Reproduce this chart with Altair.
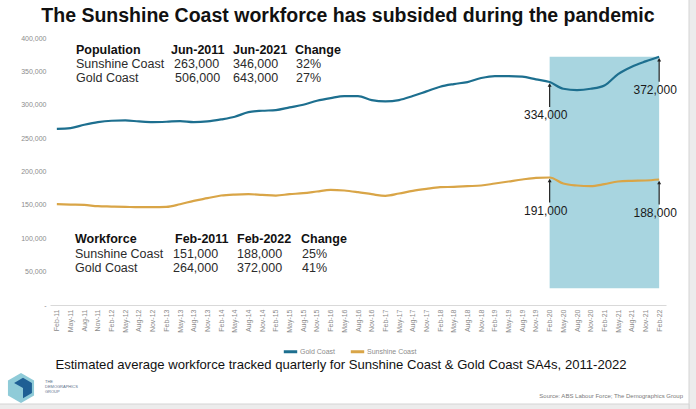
import json
import altair as alt
import pandas as pd

# Quarterly tick labels, Feb-2011 to Feb-2022
quarters = [
    "Feb-11", "May-11", "Aug-11", "Nov-11", "Feb-12", "May-12", "Aug-12", "Nov-12",
    "Feb-13", "May-13", "Aug-13", "Nov-13", "Feb-14", "May-14", "Aug-14", "Nov-14",
    "Feb-15", "May-15", "Aug-15", "Nov-15", "Feb-16", "May-16", "Aug-16", "Nov-16",
    "Feb-17", "May-17", "Aug-17", "Nov-17", "Feb-18", "May-18", "Aug-18", "Nov-18",
    "Feb-19", "May-19", "Aug-19", "Nov-19", "Feb-20", "May-20", "Aug-20", "Nov-20",
    "Feb-21", "May-21", "Aug-21", "Nov-21", "Feb-22",
]

# Estimated average workforce (persons), quarterly
gold_coast = [
    264000, 265000, 270000, 274000, 276000, 276500, 275000, 274000, 274500,
    275500, 274000, 275000, 278000, 282000, 289000, 291000, 292000, 296000,
    300000, 306000, 310000, 313000, 313000, 307000, 305000, 307000, 313000,
    320000, 327000, 331000, 334000, 340000, 343000, 343000, 342000, 338000,
    334000, 324000, 322000, 324000, 329000, 346000, 357000, 365000, 372000,
]
sunshine_coast = [
    151000, 150500, 150000, 148000, 147500, 147000, 146500, 146500, 147000,
    151000, 156000, 160000, 164000, 165500, 166000, 165000, 164000, 166000,
    167500, 170000, 172500, 171500, 169000, 166000, 163500, 167000, 171000,
    174000, 176500, 177000, 178000, 179000, 182000, 185000, 188000, 190500,
    191000, 182000, 179000, 178000, 181000, 185000, 186000, 186500, 188000,
]

regions = ["Gold Coast", "Sunshine Coast"]
region_colors = ["#1d6f8f", "#d9a547"]

# Pandemic period highlighted on the chart
pandemic_start, pandemic_end = "Feb-20", "Feb-22"
shade_low, shade_high = 25000, 372000

# Called-out values: (quarter, value)
callouts = [("Feb-20", 334000), ("Feb-22", 372000), ("Feb-20", 191000), ("Feb-22", 188000)]

# Summary tables
population_table = [
    ["Population", "Jun-2011", "Jun-2021", "Change"],
    ["Sunshine Coast", "263,000", "346,000", "32%"],
    ["Gold Coast", "506,000", "643,000", "27%"],
]
workforce_table = [
    ["Workforce", "Feb-2011", "Feb-2022", "Change"],
    ["Sunshine Coast", "151,000", "188,000", "25%"],
    ["Gold Coast", "264,000", "372,000", "41%"],
]

title_text = "The Sunshine Coast workforce has subsided during the pandemic"
subtitle_text = ("Estimated average workforce tracked quarterly for Sunshine Coast "
                 "& Gold Coast SA4s, 2011-2022")
source_text = "Source: ABS Labour Force; The Demographics Group"

FONT = "Liberation Sans"
W, H = 616, 267
PAD = {"left": 50, "top": 38, "right": 30, "bottom": 104}

qidx = {q: i for i, q in enumerate(quarters)}

rows = []
for name, vals in zip(regions, [gold_coast, sunshine_coast]):
    for i, v in enumerate(vals):
        rows.append({"idx": i, "quarter": quarters[i], "region": name, "workforce": v})
series = pd.DataFrame(rows)

x_scale = alt.Scale(domain=[-0.5, len(quarters) - 0.5], nice=False, zero=False)
y_scale = alt.Scale(domain=[0, 400000], nice=False)

x_axis = alt.Axis(
    values=list(range(len(quarters))),
    labelExpr=f"{json.dumps(quarters)}[datum.value]",
    labelAngle=-90, labelFontSize=7, labelColor="#8c8c8c", labelFont=FONT,
    labelPadding=4, ticks=False, domainColor="#d9d9d9", domainWidth=1,
    grid=False, title=None, labelOverlap=False, labelBound=False,
)
y_axis = alt.Axis(
    values=list(range(0, 400001, 50000)),
    labelExpr="datum.value == 0 ? '-' : format(datum.value, ',')",
    labelFontSize=7, labelColor="#8c8c8c", labelFont=FONT, labelPadding=4,
    ticks=False, domain=False, grid=False, title=None,
    labelOverlap=False, labelBound=False,
)


def xq(field):
    return alt.X(field, type="quantitative", scale=x_scale, axis=x_axis)


def yq(field):
    return alt.Y(field, type="quantitative", scale=y_scale, axis=y_axis)


shade = alt.Chart(pd.DataFrame({
    "x0": [qidx[pandemic_start]], "x1": [qidx[pandemic_end]],
    "y0": [shade_low], "y1": [shade_high],
})).mark_rect(color="#a8d5e0").encode(
    x=xq("x0"), x2="x1:Q", y=yq("y0"), y2="y1:Q",
)

lines = alt.Chart(series).mark_line(strokeWidth=2.2, interpolate="monotone").encode(
    x=xq("idx"),
    y=yq("workforce"),
    color=alt.Color(
        "region:N",
        scale=alt.Scale(domain=regions, range=region_colors),
        legend=alt.Legend(
            orient="none", legendX=232, legendY=305, direction="horizontal",
            title=None, symbolType="stroke", symbolStrokeWidth=3, symbolSize=180,
            labelFontSize=7, labelColor="#8c8c8c", labelFont=FONT,
            columnPadding=8, labelOffset=1,
        ),
    ),
)

call_df = pd.DataFrame({
    "idx": [qidx[q] for q, _ in callouts],
    "val": [v for _, v in callouts],
    "label": [f"{v:,}" for _, v in callouts],
})
arrow_shaft = alt.Chart(call_df).mark_rule(
    color="#222222", strokeWidth=1.2, yOffset=3, y2Offset=25,
).encode(x=xq("idx"), y=yq("val"), y2=alt.Y2("val:Q"))
arrow_head = alt.Chart(call_df).mark_point(
    shape="triangle-up", filled=True, size=16, color="#222222", opacity=1, yOffset=3,
).encode(x=xq("idx"), y=yq("val"))
arrow_label = alt.Chart(call_df).mark_text(
    font=FONT, fontSize=12, color="#1a1a1a", dy=33, dx=-4, baseline="middle",
).encode(x=xq("idx"), y=yq("val"), text="label:N")

layers = [shade, lines, arrow_shaft, arrow_head, arrow_label]


def text_layer(text, x, y, size, weight="normal", color="#1a1a1a",
               align="left", baseline="middle"):
    return alt.Chart(pd.DataFrame({"t": [text]})).mark_text(
        font=FONT, fontSize=size, fontWeight=weight, color=color,
        align=align, baseline=baseline,
    ).encode(text="t:N", x=alt.value(x), y=alt.value(y))


# Table layouts (plot-relative pixels)
pop_cols = [[26, 121, 183, 245], [26, 124, 183, 246], [26, 125, 183, 246]]
pop_rows = [11.5, 25.7, 40.3]
wf_cols = [[25, 125, 187, 251], [25, 123, 187, 252], [25, 123, 187, 252]]
wf_rows = [201.3, 215.7, 230.3]

for table, cols, ys in [(population_table, pop_cols, pop_rows),
                        (workforce_table, wf_cols, wf_rows)]:
    for r, (row, xs, y) in enumerate(zip(table, cols, ys)):
        for cell, x in zip(row, xs):
            layers.append(text_layer(cell, x, y, 12.5,
                                     weight="bold" if r == 0 else "normal",
                                     color="#111111" if r == 0 else "#2b2b2b"))

# Headline, caption and source line
layers.append(text_layer(title_text, 298, -16, 19.5, weight="bold", color="#111111",
                         align="center", baseline="alphabetic"))
layers.append(text_layer(subtitle_text, 291, 327, 13.1, color="#111111",
                         align="center"))
layers.append(text_layer(source_text, 633, 358, 6, color="#7a7a7a", align="right"))

# Logo mark
hexagon = "M0,-1L0.87,-0.5L0.87,0.5L0,1L-0.87,0.5L-0.87,-0.5Z"
cube = "M0,-1L0.87,-0.5L0.87,0.5L0,1L0,0L-0.87,-0.5Z"
logo = pd.DataFrame({"k": [0]})
layers.append(alt.Chart(logo).mark_point(
    shape=hexagon, filled=True, size=900, color="#8fcbd8", opacity=1,
).encode(x=alt.value(-29), y=alt.value(350)))
layers.append(alt.Chart(logo).mark_point(
    shape=cube, filled=True, size=420, color="#1f5f94", opacity=1,
).encode(x=alt.value(-27), y=alt.value(350)))
for i, word in enumerate(["THE", "DEMOGRAPHICS", "GROUP"]):
    layers.append(text_layer(word, -5, 344 + i * 5, 4, color="#5a6f8a"))

# Window frame on the right and bottom edges
frame = pd.DataFrame({"k": [0]})
layers.append(alt.Chart(frame).mark_rect(color="#ececec", stroke="#d4d4d4",
                                         strokeWidth=1).encode(
    x=alt.value(639), x2=alt.value(650), y=alt.value(-40), y2=alt.value(375)))
layers.append(alt.Chart(frame).mark_rect(color="#ececec", stroke="#d4d4d4",
                                         strokeWidth=1).encode(
    x=alt.value(-55), x2=alt.value(639), y=alt.value(366), y2=alt.value(375)))

chart = alt.layer(*layers).properties(
    width=W, height=H, padding=PAD,
    autosize=alt.AutoSizeParams(type="none"),
    background="white",
).configure_view(stroke=None).configure_axis(labelOverlap=False)

chart.save("out.html", embed_options={"renderer": "svg", "actions": False})
